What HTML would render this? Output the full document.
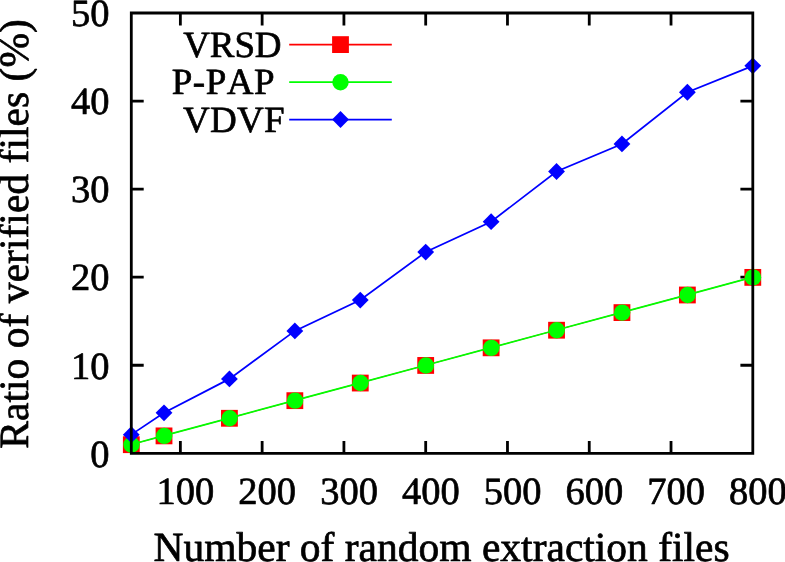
<!DOCTYPE html>
<html><head><meta charset="utf-8"><title>chart</title>
<style>html,body{margin:0;padding:0;background:#fff}svg{display:block}text{font-family:"Liberation Serif",serif;text-rendering:geometricPrecision;fill:#000;font-kerning:none;font-variant-ligatures:none;stroke:#000;stroke-width:0.7px;stroke-linejoin:round}</style></head><body>
<svg width="785" height="562" viewBox="0 0 785 562">
<rect width="785" height="562" fill="#fff"/>
<path d="M180.37 453.3v-12.4M180.37 13.0v12.4M262.14 453.3v-12.4M262.14 13.0v12.4M343.92 453.3v-12.4M343.92 13.0v12.4M425.69 453.3v-12.4M425.69 13.0v12.4M507.47 453.3v-12.4M507.47 13.0v12.4M589.25 453.3v-12.4M589.25 13.0v12.4M671.02 453.3v-12.4M671.02 13.0v12.4M131.3 365.24h12.4M752.8 365.24h-12.4M131.3 277.18h12.4M752.8 277.18h-12.4M131.3 189.12h12.4M752.8 189.12h-12.4M131.3 101.06h12.4M752.8 101.06h-12.4" fill="none" stroke="#000" stroke-width="2.8"/>
<polyline points="131.30,444.49 164.01,435.69 229.43,418.08 294.85,400.46 360.27,382.85 425.69,365.24 491.12,347.63 556.54,330.02 621.96,312.40 687.38,294.79 752.80,277.18" fill="none" stroke="#f00" stroke-width="1.0"/>
<line x1="289.2" y1="44.6" x2="391.8" y2="44.6" stroke="#f00" stroke-width="1.75"/>
<rect x="332.10" y="36.20" width="16.80" height="16.80" fill="#f00"/>
<rect x="122.90" y="436.29" width="16.80" height="16.80" fill="#f00"/>
<rect x="155.61" y="427.49" width="16.80" height="16.80" fill="#f00"/>
<rect x="221.03" y="409.88" width="16.80" height="16.80" fill="#f00"/>
<rect x="286.45" y="392.26" width="16.80" height="16.80" fill="#f00"/>
<rect x="351.87" y="374.65" width="16.80" height="16.80" fill="#f00"/>
<rect x="417.29" y="357.04" width="16.80" height="16.80" fill="#f00"/>
<rect x="482.72" y="339.43" width="16.80" height="16.80" fill="#f00"/>
<rect x="548.14" y="321.82" width="16.80" height="16.80" fill="#f00"/>
<rect x="613.56" y="304.20" width="16.80" height="16.80" fill="#f00"/>
<rect x="678.98" y="286.59" width="16.80" height="16.80" fill="#f00"/>
<rect x="744.40" y="268.98" width="16.80" height="16.80" fill="#f00"/>
<polyline points="131.30,444.49 164.01,435.69 229.43,418.08 294.85,400.46 360.27,382.85 425.69,365.24 491.12,347.63 556.54,330.02 621.96,312.40 687.38,294.79 752.80,277.18" fill="none" stroke="#0f0" stroke-width="1.75"/>
<line x1="289.2" y1="82.2" x2="391.8" y2="82.2" stroke="#0f0" stroke-width="1.75"/>
<circle cx="340.50" cy="82.20" r="8.2" fill="#0f0"/>
<circle cx="131.50" cy="444.69" r="8.2" fill="#0f0"/>
<circle cx="164.21" cy="435.89" r="8.2" fill="#0f0"/>
<circle cx="229.63" cy="418.28" r="8.2" fill="#0f0"/>
<circle cx="295.05" cy="400.66" r="8.2" fill="#0f0"/>
<circle cx="360.47" cy="383.05" r="8.2" fill="#0f0"/>
<circle cx="425.89" cy="365.44" r="8.2" fill="#0f0"/>
<circle cx="491.32" cy="347.83" r="8.2" fill="#0f0"/>
<circle cx="556.74" cy="330.22" r="8.2" fill="#0f0"/>
<circle cx="622.16" cy="312.60" r="8.2" fill="#0f0"/>
<circle cx="687.58" cy="294.99" r="8.2" fill="#0f0"/>
<circle cx="753.00" cy="277.38" r="8.2" fill="#0f0"/>
<polyline points="131.30,434.63 164.01,412.79 229.43,378.89 294.85,330.90 360.27,300.08 425.69,252.08 491.12,221.70 556.54,171.51 621.96,143.95 687.38,92.25 752.80,65.84" fill="none" stroke="#00f" stroke-width="1.75"/>
<line x1="289.2" y1="119.5" x2="391.8" y2="119.5" stroke="#00f" stroke-width="1.75"/>
<path d="M340.50 111.10L348.90 119.50L340.50 127.90L332.10 119.50Z" fill="#00f"/>
<path d="M131.30 426.23L139.70 434.63L131.30 443.03L122.90 434.63Z" fill="#00f"/>
<path d="M164.01 404.39L172.41 412.79L164.01 421.19L155.61 412.79Z" fill="#00f"/>
<path d="M229.43 370.49L237.83 378.89L229.43 387.29L221.03 378.89Z" fill="#00f"/>
<path d="M294.85 322.50L303.25 330.90L294.85 339.30L286.45 330.90Z" fill="#00f"/>
<path d="M360.27 291.68L368.67 300.08L360.27 308.48L351.87 300.08Z" fill="#00f"/>
<path d="M425.69 243.68L434.09 252.08L425.69 260.48L417.29 252.08Z" fill="#00f"/>
<path d="M491.12 213.30L499.52 221.70L491.12 230.10L482.72 221.70Z" fill="#00f"/>
<path d="M556.54 163.11L564.94 171.51L556.54 179.91L548.14 171.51Z" fill="#00f"/>
<path d="M621.96 135.55L630.36 143.95L621.96 152.35L613.56 143.95Z" fill="#00f"/>
<path d="M687.38 83.85L695.78 92.25L687.38 100.65L678.98 92.25Z" fill="#00f"/>
<path d="M752.80 57.44L761.20 65.84L752.80 74.24L744.40 65.84Z" fill="#00f"/>
<path d="M131.3 13.0H752.8V453.3H131.3Z" fill="none" stroke="#000" stroke-width="2.8" stroke-linejoin="miter"/>
<text x="185.47" y="504.3" font-size="38.5" text-anchor="middle">100</text>
<text x="267.24" y="504.3" font-size="38.5" text-anchor="middle">200</text>
<text x="349.02" y="504.3" font-size="38.5" text-anchor="middle">300</text>
<text x="430.79" y="504.3" font-size="38.5" text-anchor="middle">400</text>
<text x="512.57" y="504.3" font-size="38.5" text-anchor="middle">500</text>
<text x="594.35" y="504.3" font-size="38.5" text-anchor="middle">600</text>
<text x="676.12" y="504.3" font-size="38.5" text-anchor="middle">700</text>
<text x="757.90" y="504.3" font-size="38.5" text-anchor="middle">800</text>
<text x="109.6" y="466.60" font-size="38.5" text-anchor="end">0</text>
<text x="109.6" y="378.54" font-size="38.5" text-anchor="end">10</text>
<text x="109.6" y="290.48" font-size="38.5" text-anchor="end">20</text>
<text x="109.6" y="202.42" font-size="38.5" text-anchor="end">30</text>
<text x="109.6" y="114.36" font-size="38.5" text-anchor="end">40</text>
<text x="109.6" y="26.30" font-size="38.5" text-anchor="end">50</text>
<text x="183.2" y="57.0" font-size="37.0" letter-spacing="-0.1">VRSD</text>
<text x="171.8" y="94.3" font-size="37.0" letter-spacing="0.5">P-PAP</text>
<text x="183.0" y="132.0" font-size="37.0" letter-spacing="0.3">VDVF</text>
<text x="441.6" y="561.3" font-size="41.5" text-anchor="middle">Number of random extraction files</text>
<text transform="translate(28.1,233.9) rotate(-90)" font-size="41.6" text-anchor="middle">Ratio of verified files (%)</text>
</svg></body></html>
